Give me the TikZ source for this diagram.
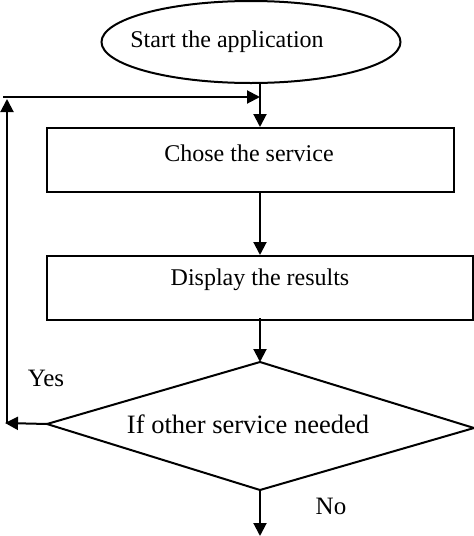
\documentclass[tikz,border=0pt]{standalone}
\usepackage{fontspec}
\setmainfont{Liberation Serif}
\usetikzlibrary{arrows.meta,shapes.geometric}
\begin{document}
\begin{tikzpicture}[x=1pt,y=-1pt,
  line width=2pt,
  arr/.style={-{Triangle[length=13pt,width=13pt]}},
  boxnode/.style={draw,minimum width=407pt,minimum height=64pt,inner sep=0pt},
  lbl/.style={font=\fontsize{24}{28}\selectfont,inner sep=0pt}]
\useasboundingbox (0,0) rectangle (474,536);
\node[draw,ellipse,minimum width=299pt,minimum height=82pt,inner sep=0pt] (start) at (251,42) {};
\node[lbl] (starttxt) at (227,42) {Start the application};
\node[boxnode,anchor=north west] (chose) at (46,127) {};
\node[lbl] (chosetxt) at (249,153) {Chose the service};
\node[boxnode,anchor=north west,minimum width=426pt] (disp) at (46,255) {};
\node[lbl] (disptxt) at (260,280) {Display the results};
\coordinate (dtop) at (260,362);
\coordinate (dleft) at (47,424);
\coordinate (dright) at (474,428);
\coordinate (dbot) at (260,490);
\draw (dtop) -- (dright) -- (dbot) -- (dleft) -- cycle;
\node[font=\fontsize{26.5}{30}\selectfont,inner sep=0pt] (cond) at (248,424) {If other service needed};
\node[lbl,font=\fontsize{25}{28}\selectfont] (yes) at (46,378) {Yes};
\node[lbl,font=\fontsize{25}{28}\selectfont] (no) at (331,506) {No};
\coordinate (j) at (260,97);
\coordinate (c1) at (260,83);
\coordinate (c2) at (260,318);
\coordinate (c3) at (260,490);
\coordinate (endp) at (260,536);
\coordinate (yl) at (5,423);
\coordinate (vb) at (7,423);
\coordinate (vt) at (7,99);
\coordinate (hl) at (3,97);
\draw[arr] (c1) -- (chose.north -| c1);
\draw[arr] (chose.south -| c1) -- (disp.north -| c1);
\draw[arr] (c2) -- (dtop);
\draw[arr] (dbot) -- (endp);
\draw[arr] (dleft) -- (yl);
\draw[arr] (vb) -- (vt);
\draw[arr] (hl) -- (j);
\end{tikzpicture}
\end{document}
